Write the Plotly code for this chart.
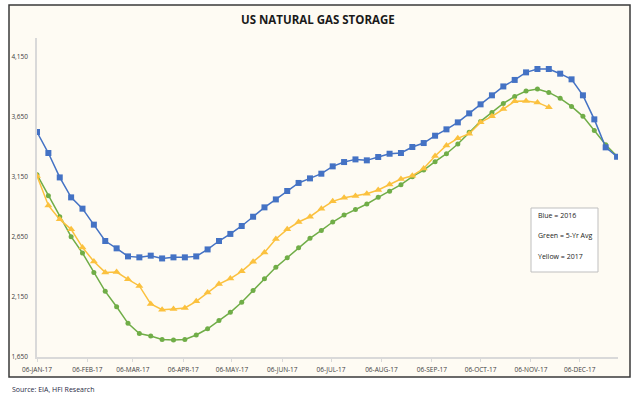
import plotly.graph_objects as go
import pandas as pd

# ---- data ----
weeks = pd.date_range("2017-01-06", periods=52, freq="7D")

blue_2016 = [3522, 3347, 3144, 2978, 2884, 2751, 2615, 2554, 2487, 2479,
             2493, 2470, 2479, 2479, 2487, 2545, 2615, 2674, 2740, 2817,
             2895, 2961, 3031, 3098, 3136, 3175, 3236, 3272, 3294, 3286,
             3314, 3341, 3347, 3397, 3430, 3491, 3544, 3602, 3677, 3752,
             3827, 3901, 3955, 4018, 4046, 4046, 4007, 3960, 3827, 3627,
             3394, 3316]

green_5yr = [3167, 2992, 2817, 2651, 2515, 2354, 2196, 2068, 1930, 1846,
             1825, 1796, 1791, 1796, 1833, 1885, 1954, 2022, 2106, 2204,
             2301, 2396, 2476, 2559, 2637, 2703, 2773, 2831, 2878, 2923,
             2978, 3028, 3084, 3150, 3205, 3275, 3341, 3422, 3519, 3610,
             3685, 3760, 3818, 3863, 3880, 3851, 3802, 3735, 3652, 3535,
             3416, 3319]

yellow_2017 = [3156, 2911, 2795, 2712, 2562, 2445, 2354, 2357, 2296, 2241,
               2091, 2044, 2049, 2058, 2113, 2187, 2257, 2303, 2363, 2443,
               2520, 2632, 2712, 2773, 2817, 2884, 2945, 2975, 2990, 3009,
               3039, 3086, 3131, 3158, 3218, 3322, 3410, 3469, 3508, 3602,
               3652, 3713, 3777, 3780, 3768, 3727]

y_ticks = [1650, 2150, 2650, 3150, 3650, 4150]
x_tick_dates = ["2017-01-06", "2017-02-06", "2017-03-06", "2017-04-06",
                "2017-05-06", "2017-06-06", "2017-07-06", "2017-08-06",
                "2017-09-06", "2017-10-06", "2017-11-06", "2017-12-06"]
x_tick_text = ["06-JAN-17", "06-FEB-17", "06-MAR-17", "06-APR-17",
               "06-MAY-17", "06-JUN-17", "06-JUL-17", "06-AUG-17",
               "06-SEP-17", "06-OCT-17", "06-NOV-17", "06-DEC-17"]

title_text = "US NATURAL GAS STORAGE"
legend_lines = ["Blue = 2016", "Green = 5-Yr Avg", "Yellow = 2017"]
source_text = "Source: EIA, HFI Research"

BLUE = "#4472C4"
GREEN = "#70AD47"
YELLOW = "#FBC13E"
CREAM = "#FEFBF3"

# ---- geometry (pixels) ----
W, H = 640, 398
L, R, T, B = 37, 618, 38, 357
pw, ph = R - L, B - T


def px(x):
    return (x - L) / pw


def py(y):
    return (B - y) / ph


fig = go.Figure()

fig.add_trace(go.Scatter(
    x=weeks, y=green_5yr, mode="lines+markers", name="5-Yr Avg",
    line=dict(color=GREEN, width=1.5),
    marker=dict(symbol="circle", size=5, color=GREEN)))

fig.add_trace(go.Scatter(
    x=weeks[:len(yellow_2017)], y=yellow_2017, mode="lines+markers", name="2017",
    line=dict(color=YELLOW, width=1.5),
    marker=dict(symbol="triangle-up", size=7, color=YELLOW)))

fig.add_trace(go.Scatter(
    x=weeks, y=blue_2016, mode="lines+markers", name="2016",
    line=dict(color=BLUE, width=1.5),
    marker=dict(symbol="square", size=6, color=BLUE)))

y_top = 1650 + (B - T) * 2500 / 300.5

fig.update_layout(
    width=W, height=H,
    margin=dict(l=L, r=W - R, t=T, b=H - B),
    paper_bgcolor="white",
    plot_bgcolor=CREAM,
    showlegend=False,
    font=dict(family="Open Sans", color="#404040"),
    xaxis=dict(
        type="date",
        range=["2017-01-06", "2017-12-29 14:00"],
        tickvals=x_tick_dates, ticktext=x_tick_text,
        tickfont=dict(size=6.5, color="#404040", family="Open Sans"),
        showgrid=False, zeroline=False,
        showline=True, linecolor="#D9D9D9", linewidth=1.5,
        ticks="outside", ticklen=3, tickcolor="#D9D9D9",
        ticklabelstandoff=2,
    ),
    yaxis=dict(
        range=[1650, y_top],
        tickvals=y_ticks, ticktext=[f"{v:,}" for v in y_ticks],
        tickfont=dict(size=6.5, color="#404040", family="Open Sans"),
        showgrid=False, zeroline=False,
        showline=True, linecolor="#D9D9D9", linewidth=1.5,
        ticks="", ticklabelstandoff=6,
    ),
    shapes=[
        dict(type="rect", xref="paper", yref="paper", layer="below",
             x0=px(9), x1=px(630), y0=py(377), y1=py(5),
             fillcolor=CREAM, line=dict(color="#3A3A3A", width=1.5)),
        dict(type="rect", xref="paper", yref="paper", layer="above",
             x0=px(531), x1=px(598), y0=py(272), y1=py(208),
             fillcolor="white", line=dict(color="#BFBFBF", width=1)),
    ],
    annotations=[
        dict(text=f"<b>{title_text}</b>", xref="paper", yref="paper",
             x=px(318), y=py(20), showarrow=False,
             xanchor="center", yanchor="middle",
             font=dict(size=11.5, color="#1A1A1A", family="Open Sans")),
        dict(text=source_text, xref="paper", yref="paper",
             x=px(10), y=py(389), showarrow=False,
             xanchor="left", yanchor="middle",
             font=dict(size=7, color="#1F2A44", family="Open Sans")),
    ] + [
        dict(text=t, xref="paper", yref="paper",
             x=px(536), y=py(yy), showarrow=False,
             xanchor="left", yanchor="middle",
             font=dict(size=7, color="#1A1A1A", family="Open Sans"))
        for t, yy in zip(legend_lines, [215, 235, 256])
    ],
)

fig.write_html("out.html", config={"displayModeBar": False},
               post_script="document.body.style.margin='0';")
